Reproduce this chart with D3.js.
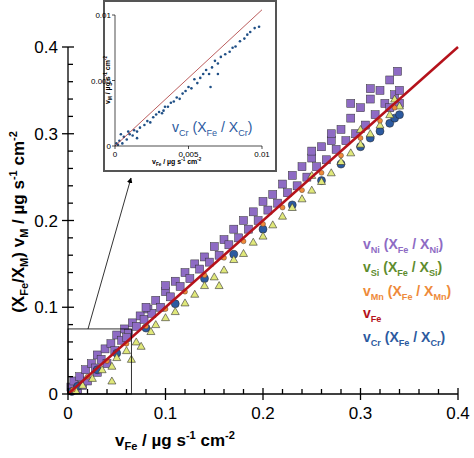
<!DOCTYPE html><html><head><meta charset="utf-8"><script src="https://cdn.jsdelivr.net/npm/d3@7"></script>
<style>body{margin:0;background:#fff}text{font-family:"Liberation Sans",Arial,sans-serif}</style></head><body><svg id="c" width="474" height="458"></svg>
<script>
const xTicks=[0,0.1,0.2,0.3,0.4], yTicks=[0,0.1,0.2,0.3,0.4];
const niData=[[0.003,0.008],[0.006,0.015],[0.01,0.005],[0.012,0.02],[0.015,0.01],[0.018,0.028],[0.02,0.015],[0.024,0.035],[0.028,0.03],[0.03,0.045],[0.034,0.04],[0.038,0.052],[0.04,0.035],[0.044,0.058],[0.048,0.05],[0.05,0.068],[0.055,0.062],[0.058,0.075],[0.062,0.07],[0.066,0.082],[0.07,0.078],[0.074,0.09],[0.078,0.086],[0.082,0.098],[0.086,0.093],[0.09,0.108],[0.095,0.1],[0.1,0.118],[0.105,0.112],[0.11,0.13],[0.115,0.124],[0.12,0.14],[0.125,0.133],[0.13,0.15],[0.135,0.144],[0.14,0.158],[0.145,0.152],[0.15,0.17],[0.155,0.16],[0.16,0.178],[0.165,0.172],[0.17,0.19],[0.175,0.18],[0.18,0.2],[0.185,0.19],[0.19,0.21],[0.195,0.2],[0.2,0.222],[0.205,0.212],[0.21,0.23],[0.215,0.22],[0.22,0.242],[0.225,0.232],[0.23,0.252],[0.235,0.24],[0.24,0.262],[0.245,0.25],[0.25,0.272],[0.255,0.262],[0.26,0.285],[0.265,0.27],[0.27,0.292],[0.275,0.282],[0.28,0.305],[0.285,0.292],[0.29,0.318],[0.295,0.3],[0.3,0.33],[0.305,0.31],[0.31,0.34],[0.315,0.322],[0.32,0.35],[0.325,0.335],[0.33,0.362],[0.335,0.345],[0.338,0.372],[0.34,0.35],[0.29,0.335],[0.31,0.352],[0.27,0.3],[0.25,0.28],[0.1,0.125],[0.08,0.1],[0.06,0.065],[0.03,0.025],[0.33,0.33],[0.34,0.335]];
const siData=[[0.008,0.004],[0.015,0.01],[0.025,0.018],[0.035,0.028],[0.045,0.032],[0.045,0.015],[0.05,0.042],[0.06,0.05],[0.07,0.06],[0.075,0.055],[0.085,0.072],[0.09,0.08],[0.1,0.088],[0.11,0.095],[0.12,0.105],[0.13,0.115],[0.14,0.125],[0.15,0.135],[0.16,0.143],[0.17,0.155],[0.18,0.162],[0.19,0.175],[0.2,0.182],[0.21,0.195],[0.22,0.205],[0.23,0.215],[0.24,0.225],[0.25,0.235],[0.26,0.245],[0.27,0.255],[0.28,0.268],[0.29,0.278],[0.3,0.288],[0.31,0.3],[0.32,0.31],[0.33,0.322],[0.34,0.332],[0.335,0.34],[0.3,0.305],[0.25,0.252],[0.155,0.125],[0.065,0.04]];
const mnData=[[0.005,0.005],[0.02,0.02],[0.04,0.038],[0.06,0.058],[0.08,0.078],[0.1,0.098],[0.12,0.118],[0.14,0.137],[0.16,0.157],[0.18,0.176],[0.2,0.196],[0.22,0.215],[0.24,0.235],[0.26,0.255],[0.28,0.275],[0.3,0.295],[0.32,0.315],[0.335,0.33]];
const crData=[[0.004,0.003],[0.01,0.009],[0.03,0.028],[0.05,0.047],[0.08,0.076],[0.11,0.104],[0.14,0.133],[0.17,0.161],[0.2,0.19],[0.23,0.218],[0.26,0.246],[0.28,0.265],[0.3,0.285],[0.31,0.295],[0.32,0.303],[0.33,0.312],[0.335,0.318],[0.34,0.322]];
const insetCr=[[0.0002,0.0001],[0.0003,0.0004],[0.0005,0.0002],[0.0006,0.0007],[0.0008,0.0005],[0.001,0.0009],[0.0012,0.0008],[0.0013,0.0012],[0.0015,0.0011],[0.0017,0.0014],[0.002,0.0016],[0.0022,0.0019],[0.0024,0.0018],[0.0026,0.0022],[0.0028,0.0024],[0.003,0.0026],[0.0032,0.0025],[0.0034,0.003],[0.0036,0.003],[0.0038,0.0033],[0.004,0.0034],[0.0042,0.0037],[0.0044,0.0036],[0.0046,0.004],[0.0048,0.0042],[0.005,0.0045],[0.0052,0.0044],[0.0054,0.0051],[0.0056,0.0048],[0.0058,0.0052],[0.006,0.0055],[0.0062,0.0058],[0.0064,0.0055],[0.0066,0.006],[0.0068,0.0065],[0.007,0.0063],[0.007,0.0055],[0.0072,0.0068],[0.0075,0.007],[0.0078,0.0072],[0.008,0.0075],[0.0082,0.0076],[0.0085,0.008],[0.0088,0.0082],[0.009,0.0085],[0.0092,0.0087],[0.0095,0.009],[0.0098,0.0091],[0.0065,0.0045],[0.0033,0.0027],[0.0015,0.0006],[0.0009,0.0011],[0.0004,0.0009],[0.0001,0.0002]];
const C={ni:"#8e6bc4",si:"#5e8c2e",mn:"#ee8a3a",fe:"#b5121b",cr:"#2c5aa0"};
const svg=d3.select("#c");
const x=d3.scaleLinear().domain([0,0.4]).range([68,458]);
const y=d3.scaleLinear().domain([0,0.4]).range([394,47]);
const g=svg.append("g");
g.selectAll(".ni").data(niData).enter().append("rect").attr("x",d=>x(d[0])-4).attr("y",d=>y(d[1])-4).attr("width",8).attr("height",8).attr("fill",C.ni).attr("stroke","#333").attr("stroke-width",0.5);
g.selectAll(".cr").data(crData).enter().append("circle").attr("cx",d=>x(d[0])).attr("cy",d=>y(d[1])).attr("r",4).attr("fill",C.cr).attr("stroke","#222").attr("stroke-width",0.5);
g.selectAll(".si").data(siData).enter().append("path").attr("d",d=>{const a=x(d[0]),b=y(d[1]);return `M${a},${b-4}L${a+4},${b+3}L${a-4},${b+3}Z`}).attr("fill","#e0e87a").attr("stroke","#333").attr("stroke-width",0.6);
g.selectAll(".mn").data(mnData).enter().append("circle").attr("cx",d=>x(d[0])).attr("cy",d=>y(d[1])).attr("r",2.5).attr("fill",C.mn).attr("stroke","#333").attr("stroke-width",0.4);
g.append("line").attr("x1",x(0)).attr("y1",y(0)).attr("x2",x(0.4)).attr("y2",y(0.4)).attr("stroke",C.fe).attr("stroke-width",2.5);
function ticks(){
 const ax=svg.append("g").attr("stroke","#000").attr("stroke-width",1.3);
 ax.append("line").attr("x1",x(0)).attr("x2",x(0.4)).attr("y1",y(0)).attr("y2",y(0));
 ax.append("line").attr("x1",x(0)).attr("x2",x(0)).attr("y1",y(0)).attr("y2",y(0.4));
 d3.range(0,0.4001,0.02).forEach((v,i)=>{const maj=i%5===0;
  ax.append("line").attr("x1",x(v)).attr("x2",x(v)).attr("y1",y(0)+(maj?6:0)).attr("y2",y(0)-(maj?6:5));
  ax.append("line").attr("y1",y(v)).attr("y2",y(v)).attr("x1",x(0)-(maj?6:0)).attr("x2",x(0)+(maj?6:5));});
 xTicks.forEach(v=>svg.append("text").attr("x",x(v)).attr("y",419).attr("text-anchor","middle").attr("font-size",17).text(v));
 yTicks.forEach(v=>svg.append("text").attr("x",58).attr("y",y(v)+6).attr("text-anchor","end").attr("font-size",17).text(v));
}
ticks();
function rich(t,parts,size){parts.forEach(p=>{const s=t.append("tspan").text(p[0]);
 if(p[1]==="sub"){s.attr("font-size",size*0.65).attr("dy",size*0.25);t.append("tspan").attr("dy",-size*0.25).text("\u200b");}
 else if(p[1]==="sup"){s.attr("font-size",size*0.65).attr("dy",-size*0.4);t.append("tspan").attr("dy",size*0.4).text("\u200b");}});}
let t=svg.append("text").attr("x",115).attr("y",446).attr("font-size",17).attr("font-weight","bold");
rich(t,[["v"],["Fe","sub"],["  / µg s"],["-1","sup"],[" cm"],["-2","sup"]],17);
t=svg.append("text").attr("transform","translate(24,222) rotate(-90)").attr("text-anchor","middle").attr("font-size",17).attr("font-weight","bold");
rich(t,[["(X"],["Fe","sub"],["/X"],["M","sub"],[") v"],["M","sub"],[" / µg s"],["-1","sup"],[" cm"],["-2","sup"]],17);
const leg=[[C.ni,"Ni",249],[C.si,"Si",272],[C.mn,"Mn",296],[C.fe,null,318],[C.cr,"Cr",342]];
leg.forEach(l=>{const tt=svg.append("text").attr("x",363).attr("y",l[2]).attr("font-size",14).attr("font-weight","bold").attr("fill",l[0]);
 if(l[1])rich(tt,[["v"],[l[1],"sub"],[" (X"],["Fe","sub"],[" / X"],[l[1],"sub"],[")"]],14);else rich(tt,[["v"],["Fe","sub"]],14);});
svg.append("rect").attr("x",x(0)).attr("y",y(0.075)).attr("width",x(0.065)-x(0)).attr("height",y(0)-y(0.075)).attr("fill","none").attr("stroke","#000").attr("stroke-width",0.8);
svg.append("defs").append("marker").attr("id","ar").attr("viewBox","0 0 10 10").attr("refX",9).attr("refY",5).attr("markerWidth",7).attr("markerHeight",7).attr("orient","auto").append("path").attr("d","M0,0L10,5L0,10Z").attr("fill","#000");
svg.append("line").attr("x1",88).attr("y1",y(0.075)).attr("x2",131).attr("y2",178).attr("stroke","#000").attr("stroke-width",0.8).attr("marker-end","url(#ar)");
svg.append("rect").attr("x",104).attr("y",1).attr("width",172).attr("height",170).attr("fill","#fff").attr("stroke","#555").attr("stroke-width",2);
const ix=d3.scaleLinear().domain([0,0.01]).range([115,262]), iy=d3.scaleLinear().domain([0,0.01]).range([146,15]);
const ig=svg.append("g");
ig.selectAll("circle").data(insetCr).enter().append("circle").attr("cx",d=>ix(d[0])).attr("cy",d=>iy(d[1])).attr("r",1.3).attr("fill","#1f4f86");
ig.append("line").attr("x1",ix(0)).attr("y1",iy(0)).attr("x2",ix(0.01)).attr("y2",iy(0.0104)).attr("stroke","#a33").attr("stroke-width",0.8);
const ia=svg.append("g").attr("stroke","#000").attr("stroke-width",0.7);
ia.append("line").attr("x1",ix(0)).attr("x2",ix(0.01)).attr("y1",iy(0)).attr("y2",iy(0));
ia.append("line").attr("x1",ix(0)).attr("x2",ix(0)).attr("y1",iy(0)).attr("y2",iy(0.01));
[0,0.005,0.01].forEach(v=>{ia.append("line").attr("x1",ix(v)).attr("x2",ix(v)).attr("y1",iy(0)).attr("y2",iy(0)+3);ia.append("line").attr("y1",iy(v)).attr("y2",iy(v)).attr("x1",ix(0)-3).attr("x2",ix(0));});
[[0,"0"],[0.005,"0.005"],[0.01,"0.01"]].forEach(v=>{svg.append("text").attr("x",ix(v[0])).attr("y",157).attr("text-anchor","middle").attr("font-size",8).text(v[1]);
 svg.append("text").attr("x",ix(0)-4).attr("y",iy(v[0])+3).attr("text-anchor","end").attr("font-size",8).text(v[1]);});
t=svg.append("text").attr("x",152).attr("y",164).attr("font-size",7).attr("font-weight","bold");rich(t,[["v"],["Fe","sub"],[" / µg s"],["-1","sup"],[" cm"],["-2","sup"]],7);
t=svg.append("text").attr("transform","translate(110,80) rotate(-90)").attr("text-anchor","middle").attr("font-size",7).attr("font-weight","bold");rich(t,[["v"],["M","sub"],[" / µg s"],["-1","sup"],[" cm"],["-2","sup"]],7);
t=svg.append("text").attr("x",172).attr("y",132).attr("font-size",14).attr("fill",C.cr);rich(t,[["v"],["Cr","sub"],[" (X"],["Fe","sub"],[" / X"],["Cr","sub"],[")"]],14);
</script></body></html>
